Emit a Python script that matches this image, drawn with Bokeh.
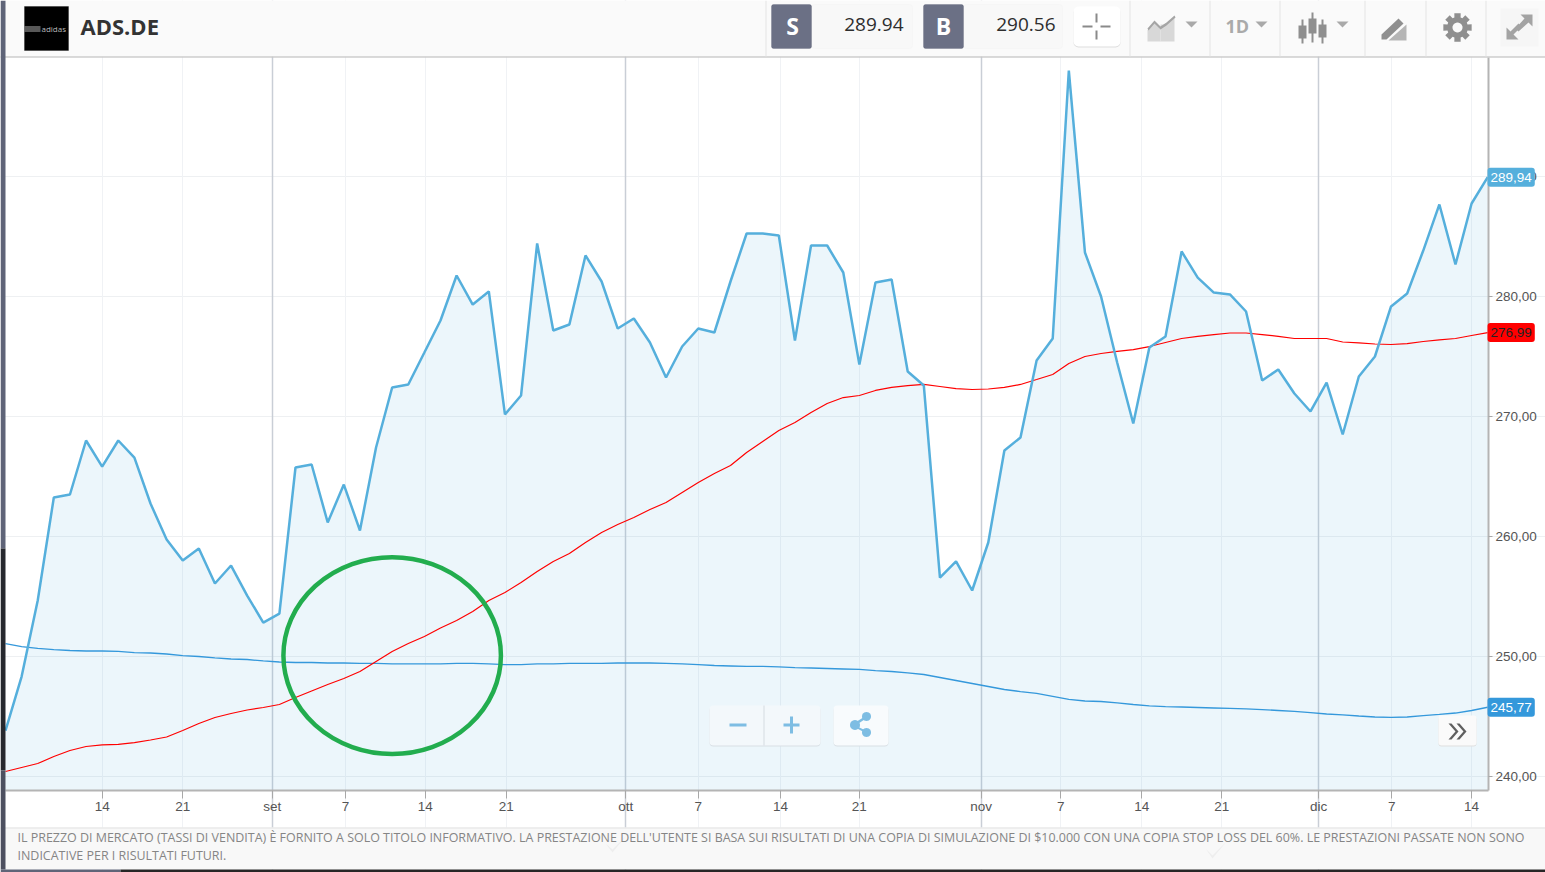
"""ADS.DE price line with two moving averages, in a trading platform frame."""

import math

from bokeh.embed import file_html
from bokeh.models import (BoxAnnotation, FixedTicker, Grid, Label, LinearAxis,
                          PolyAnnotation, Range1d)
from bokeh.plotting import figure
from bokeh.resources import INLINE

PRICE = [243.83, 248.33, 254.67, 263.25, 263.50, 268.00, 265.83, 268.00, 266.58, 262.75,
         259.75, 258.00, 259.00, 256.08, 257.58, 255.08, 252.83, 253.58, 265.75, 266.00,
         261.17, 264.33, 260.50, 267.42, 272.42, 272.67, 275.33, 278.00, 281.75, 279.33,
         280.42, 270.17, 271.75, 284.42, 277.17, 277.67, 283.42, 281.25, 277.33, 278.17,
         276.17, 273.25, 275.83, 277.33, 277.00, 281.25, 285.25, 285.25, 285.08, 276.33,
         284.25, 284.25, 282.00, 274.33, 281.17, 281.42, 273.75, 272.58, 256.58, 257.92,
         255.50, 259.50, 267.17, 268.25, 274.67, 276.50, 298.83, 283.67, 280.00, 274.50,
         269.42, 275.75, 276.67, 283.75, 281.58, 280.33, 280.17, 278.75, 273.00, 273.92,
         271.92, 270.42, 272.83, 268.50, 273.33, 275.00, 279.17, 280.25, 283.83, 287.67,
         282.67, 287.75, 289.94]
MA_RED = [240.42, 240.75, 241.08, 241.67, 242.17, 242.50, 242.63, 242.67, 242.83, 243.04,
          243.29, 243.83, 244.42, 244.92, 245.25, 245.54, 245.75, 246.00, 246.58, 247.13,
          247.67, 248.17, 248.75, 249.58, 250.42, 251.08, 251.67, 252.38, 253.00, 253.75,
          254.67, 255.33, 256.17, 257.08, 257.92, 258.58, 259.50, 260.33, 261.00, 261.58,
          262.25, 262.83, 263.67, 264.50, 265.25, 265.92, 267.00, 267.92, 268.83, 269.50,
          270.33, 271.08, 271.58, 271.75, 272.17, 272.42, 272.58, 272.67, 272.50, 272.33,
          272.25, 272.29, 272.42, 272.67, 273.08, 273.50, 274.42, 275.00, 275.25, 275.42,
          275.58, 275.83, 276.17, 276.50, 276.67, 276.83, 276.96, 276.96, 276.83, 276.67,
          276.50, 276.50, 276.50, 276.21, 276.13, 276.04, 276.00, 276.08, 276.25, 276.38,
          276.50, 276.75, 276.99]
MA_BLUE = [251.08, 250.83, 250.67, 250.58, 250.50, 250.46, 250.46, 250.42, 250.33, 250.29,
           250.21, 250.08, 250.00, 249.88, 249.79, 249.75, 249.63, 249.54, 249.50, 249.50,
           249.46, 249.46, 249.42, 249.42, 249.38, 249.38, 249.38, 249.38, 249.42, 249.42,
           249.38, 249.33, 249.33, 249.38, 249.38, 249.42, 249.42, 249.42, 249.46, 249.46,
           249.46, 249.42, 249.38, 249.33, 249.25, 249.21, 249.17, 249.17, 249.13, 249.08,
           249.04, 249.00, 248.96, 248.92, 248.83, 248.75, 248.63, 248.50, 248.25, 248.00,
           247.75, 247.50, 247.25, 247.08, 246.92, 246.67, 246.42, 246.29, 246.25, 246.13,
           246.00, 245.88, 245.83, 245.79, 245.75, 245.71, 245.67, 245.63, 245.58, 245.50,
           245.42, 245.33, 245.21, 245.13, 245.04, 244.96, 244.92, 244.96, 245.08, 245.17,
           245.29, 245.50, 245.77]
DAYS = list(range(len(PRICE)))

TICK_POS = [6, 11, 16.56, 21.1, 26.05, 31.08, 38.5, 43, 48.1, 53, 60.55, 65.5, 70.53,
            75.5, 81.5, 86.04, 91]
TICK_LABELS = ["14", "21", "set", "7", "14", "21", "ott", "7", "14", "21", "nov", "7",
               "14", "21", "dic", "7", "14"]
MONTH_POS = [16.56, 38.5, 60.55, 81.5]
Y_TICKS = [240, 250, 260, 270, 280, 290]
Y_LABELS = ["240,00", "250,00", "260,00", "270,00", "280,00", "290,00"]
SYMBOL = "ADS.DE"
SELL = "289.94"
BUY = "290.56"
DISCLAIMER = [
    "IL PREZZO DI MERCATO (TASSI DI VENDITA) È FORNITO A SOLO TITOLO INFORMATIVO. LA PRESTAZIONE "
    "DELL'UTENTE SI BASA SUI RISULTATI DI UNA COPIA DI SIMULAZIONE DI $10.000 CON UNA COPIA STOP "
    "LOSS DEL 60%. LE PRESTAZIONI PASSATE NON SONO",
    "INDICATIVE PER I RISULTATI FUTURI.",
]

PRICE_BLUE = "#55afdc"
AVG_BLUE = "#3498db"
GREY_ICON = "#a9a9a9"
FONT = "Open Sans"
AXIS_FONT = "Liberation Sans"

# the frame fills the canvas, because annotations get clipped to the frame
X_END = 92.05
Y_BOTTOM = 238.83
Y_TOP = 299.92
PX_DAY = 16.111
PX_UNIT = 12.0
p = figure(width=1545, height=872, output_backend="svg", toolbar_location=None,
           x_range=Range1d(-5 / PX_DAY, 1540 / PX_DAY), y_range=Range1d(232, 240 + 776 / PX_UNIT),
           min_border=0, x_axis_location=None, y_axis_location=None, outline_line_color=None)
p.margin = (0, 0, 0, 0)
p.background_fill_color = "white"
p.border_fill_color = "white"
p.grid.visible = False

# grids
ygrid = Grid(dimension=1, ticker=FixedTicker(ticks=Y_TICKS), grid_line_color="#eef0f2",
             bounds=(0, X_END))
weekgrid = Grid(dimension=0, ticker=FixedTicker(ticks=TICK_POS), grid_line_color="#f0f2f5",
                bounds=(Y_BOTTOM, Y_TOP))
monthgrid = Grid(dimension=0, ticker=FixedTicker(ticks=MONTH_POS), grid_line_color="#c9ced6",
                 grid_line_width=1.5, bounds=(Y_BOTTOM, Y_TOP))
for g in (ygrid, weekgrid, monthgrid):
    p.add_layout(g)

# axes
xaxis = LinearAxis(ticker=FixedTicker(ticks=TICK_POS), fixed_location=Y_BOTTOM, bounds=(0, X_END),
                   major_label_overrides=dict(zip(TICK_POS, TICK_LABELS)))
yaxis = LinearAxis(ticker=FixedTicker(ticks=Y_TICKS), fixed_location=X_END, bounds=(Y_BOTTOM, Y_TOP),
                   major_label_overrides=dict(zip(Y_TICKS, Y_LABELS)))
for ax in (xaxis, yaxis):
    ax.axis_line_color = "#b4b4b4"
    ax.axis_line_width = 2
    ax.major_tick_line_color = "#a8a8a8"
    ax.major_tick_in = 0
    ax.minor_tick_line_color = None
    ax.major_label_text_font = AXIS_FONT
    ax.major_label_text_font_size = "13.5px"
    ax.major_label_text_color = "#555555"
xaxis.major_tick_out = 8
xaxis.major_label_standoff = 0
yaxis.major_tick_out = 4
yaxis.major_label_standoff = 3
p.add_layout(xaxis, "below")
p.add_layout(yaxis, "right")

# series
p.varea(DAYS, Y_BOTTOM, PRICE, fill_color=PRICE_BLUE, fill_alpha=0.11)
p.line(DAYS, MA_BLUE, line_color=AVG_BLUE, line_width=1.3)
p.line(DAYS, MA_RED, line_color="#ff0000", line_width=1.2)
p.line(DAYS, PRICE, line_color=PRICE_BLUE, line_width=2.5)
p.ellipse([24], [250.08], width=13.5, height=16.4, fill_color=None,
          line_color="#22ad4e", line_width=4.5)


def box(left, top, right, bottom, fill, line=None, radius=0, width=1):
    p.add_layout(BoxAnnotation(left=left, right=right, top=top, bottom=bottom,
                               left_units="canvas", right_units="canvas",
                               top_units="canvas", bottom_units="canvas",
                               fill_color=fill, fill_alpha=1, line_color=line, line_width=width,
                               border_radius=radius, editable=False))


def poly(points, fill, line=None, alpha=1, width=1):
    p.add_layout(PolyAnnotation(xs=[pt[0] for pt in points], ys=[pt[1] for pt in points],
                                xs_units="canvas", ys_units="canvas",
                                fill_color=fill, fill_alpha=alpha, line_color=line, line_width=width))


def text(x, y, s, size, color, style="normal", align="left", font=FONT):
    p.add_layout(Label(x=x, y=y, x_units="canvas", y_units="canvas", text=s,
                       text_font=font, text_font_size=f"{size}px", text_color=color,
                       text_font_style=style, text_align=align, text_baseline="middle"))


def circle(cx, cy, r, fill):
    pts = [(cx + r * math.cos(a * math.pi / 12), cy + r * math.sin(a * math.pi / 12))
           for a in range(24)]
    poly(pts, fill)


def triangle(left, top, fill=GREY_ICON):
    poly([(left, top), (left + 12, top), (left + 6, top + 6)], fill)


# price tags sit on the right axis at their value
for value, tag, bg, tag_text in [(PRICE[-1], "289,94", PRICE_BLUE, "white"),
                                 (MA_RED[-1], "276,99", "#ff0000", "#222222"),
                                 (MA_BLUE[-1], "245,77", AVG_BLUE, "white")]:
    p.add_layout(Label(x=1487, y=value, x_units="canvas", y_units="data", text=tag,
                       text_font=AXIS_FONT, text_font_size="13.5px", text_color=tag_text,
                       text_baseline="middle", background_fill_color=bg, padding=(3, 5),
                       border_radius=3))

# top bar
box(0, 0, 1545, 56, "#fafafa", "#fafafa")
box(0, 56, 1545, 57, "#c6c6c6", "#c6c6c6")
box(24, 6, 68, 50, "#000000", "#000000")
for y in (26, 28, 30):
    box(24, y, 40, y + 1, "#b0b0b0")
text(41, 28, "adidas", 8, "#bbbbbb")
text(80, 25.5, SYMBOL, 22, "#333333", "bold")

for x in (765, 1129, 1209, 1279, 1364, 1425, 1485):
    box(x, 0, x + 1, 56, "#e4e4e4")
box(811, 4, 912, 48, "#f8f8f8", "#eeeeee", 3)
box(771, 4, 811, 48, "#6b7085", "#5c6074", 2)
text(792, 25.5, "S", 23, "white", "bold", "center")
text(903, 24, SELL, 19, "#2e2e2e", align="right")
box(963, 4, 1062, 48, "#f8f8f8", "#eeeeee", 3)
box(923, 4, 963, 48, "#6b7085", "#5c6074", 2)
text(943, 25.5, "B", 23, "white", "bold", "center")
text(1055, 24, BUY, 19, "#2e2e2e", align="right")

box(1073, 7, 1120, 47, "#dddddd", None, 5)
box(1073, 6, 1120, 46, "#ffffff", None, 5)
for rect in ((1082, 25, 1092, 27), (1100, 25, 1110, 27), (1095, 13, 1097, 22), (1095, 30, 1097, 39)):
    box(rect[0], rect[1], rect[2], rect[3], "#8a8a8a")

# line chart icon
poly([(1147, 30), (1154, 22), (1160, 29), (1160, 41), (1147, 41)], "#d8d8d8")
poly([(1160, 24), (1166, 24), (1174, 16), (1174, 41), (1160, 41)], "#d8d8d8")
poly([(1147, 28), (1154, 20), (1160, 26), (1166, 22), (1174, 15), (1175, 17), (1166, 25),
      (1160, 29), (1154, 23), (1148, 30)], "#a5a5a5")
triangle(1185, 21)
text(1225, 25.5, "1D", 18, "#aaaaaa", "bold")
triangle(1255, 21)
# candle icon
for cx, top, bot, t2, b2 in ((1302, 25, 38, 19, 43), (1312, 18, 33, 12, 42), (1322, 24, 37, 19, 43)):
    box(cx - 1, t2, cx + 1, b2, "#8f8f8f")
    box(cx - 4, top, cx + 4, bot, "#8f8f8f")
triangle(1336, 21)
# drawing icon
poly([(1388, 40), (1406, 24), (1406, 40)], "#b5b5b5")
poly([(1381, 34), (1398, 18), (1403, 23), (1386, 39), (1381, 39)], "#8f8f8f")
# gear
gear = []
for i in range(8):
    a = i * math.pi / 4
    for da, r in ((-0.30, 10.5), (-0.22, 14.5), (0.22, 14.5), (0.30, 10.5)):
        gear.append((1457 + r * math.cos(a + da), 27 + r * math.sin(a + da)))
poly(gear, "#8f8f8f")
circle(1457, 27, 5, "#fafafa")
# expand icon
box(1500, 8, 1538, 46, "#f6f6f6")
poly([(1520, 14), (1532, 14), (1532, 26), (1528, 22), (1518, 31), (1515, 28), (1524, 18)], "#a3a3a3")
poly([(1506, 39), (1506, 27), (1510, 31), (1518, 23), (1521, 26), (1513, 34), (1518, 39)], "#a3a3a3")

# chart buttons
box(709, 706, 820, 746, "#d8dfe4", None, 4)
box(709, 705, 820, 745, "#f3f8fb", None, 4)
box(763, 705, 764, 745, "#d5dce1")
box(729, 723, 746, 726, "#7dbde3")
box(783, 723, 799, 726, "#7dbde3")
box(789.5, 716, 792.5, 733, "#7dbde3")
box(833, 706, 888, 746, "#d8dfe4", None, 4)
box(833, 705, 888, 745, "#f8fbfd", None, 4)
poly([(853, 723), (866, 715), (867, 717), (855, 725), (867, 731), (866, 733), (853, 726)], "#7dbde3")
circle(854.5, 724.5, 5, "#7dbde3")
circle(866, 716, 4.5, "#7dbde3")
circle(866, 732, 4.5, "#7dbde3")
box(1438, 716, 1476, 746, "#dfdfdf", None, 3)
box(1438, 715, 1476, 745, "#fafafa", None, 3)
for dx in (0, 8):
    poly([(1448 + dx, 723), (1451 + dx, 723), (1458 + dx, 731), (1451 + dx, 739),
          (1448 + dx, 739), (1455 + dx, 731)], "#5f5f5f")

# footer
box(0, 827, 1545, 869, "#f8f8f8", "#f8f8f8")
box(0, 827, 1545, 828, "#e2e2e2")
poly([(605, 843), (612, 852), (626, 835), (612, 849)], "#eeeeee")
poly([(1205, 848), (1212, 858), (1226, 841), (1212, 855)], "#eeeeee")
for y, line in zip((837, 854.5), DISCLAIMER):
    text(17, y, line, 12.46, "#858585")

# window edges
box(0, 0, 5, 548, "#5f6478")
box(0, 548, 5, 770, "#26282e")
box(0, 770, 5, 869, "#4d5060")
box(0, 869, 120, 872, "#5f6478")
box(120, 869, 1545, 872, "#262626")

open("out.html", "w").write(file_html(p, INLINE))
